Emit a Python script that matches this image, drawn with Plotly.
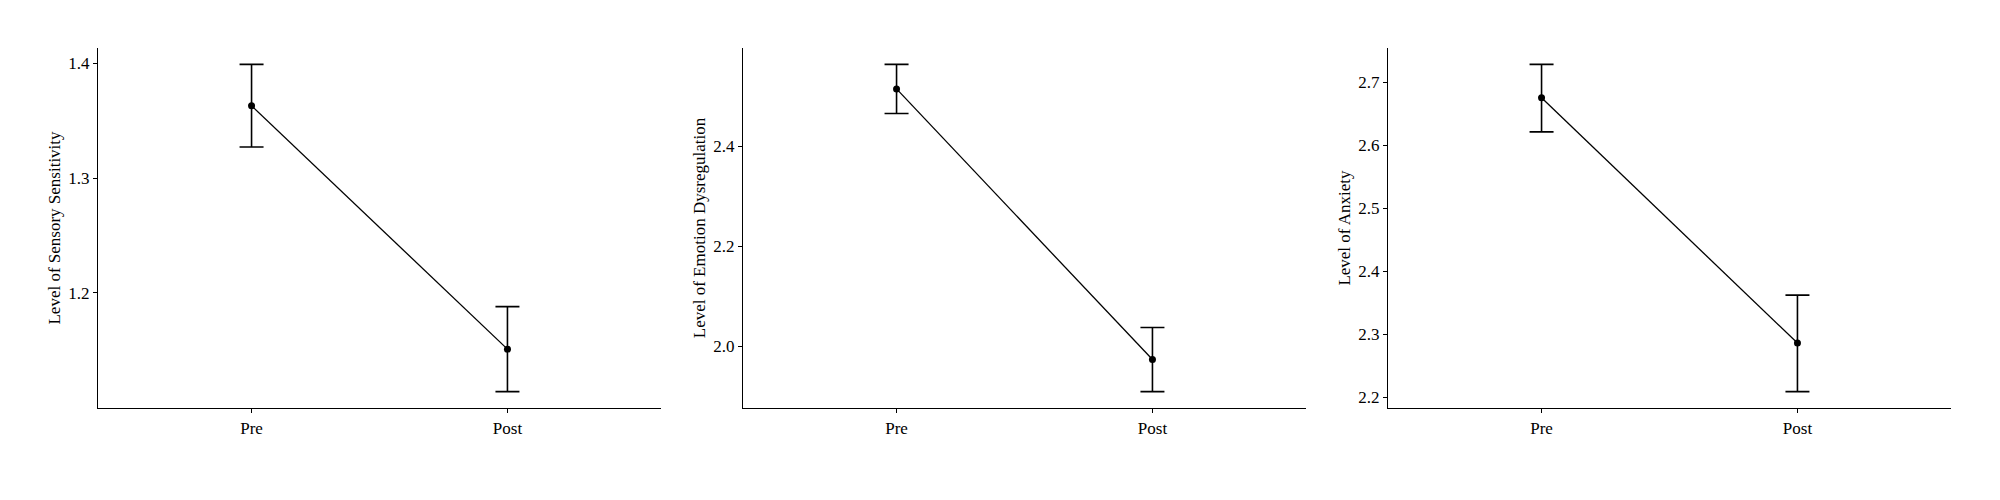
import plotly.graph_objects as go
from plotly.subplots import make_subplots

# --- data ---
times = ["Pre", "Post"]

sensory_mean = [1.363, 1.151]
sensory_upper = [1.399, 1.188]
sensory_lower = [1.327, 1.114]

emotion_mean = [2.514, 1.974]
emotion_upper = [2.563, 2.038]
emotion_lower = [2.465, 1.910]

anxiety_mean = [2.675, 2.286]
anxiety_upper = [2.728, 2.362]
anxiety_lower = [2.621, 2.209]

y_titles = ["Level of Sensory Sensitivity", "Level of Emotion Dysregulation", "Level of Anxiety"]
y_ticks = [[1.2, 1.3, 1.4], [2.0, 2.2, 2.4], [2.2, 2.3, 2.4, 2.5, 2.6, 2.7]]

panels = [
    (sensory_mean, sensory_upper, sensory_lower),
    (emotion_mean, emotion_upper, emotion_lower),
    (anxiety_mean, anxiety_upper, anxiety_lower),
]

FONT = "Liberation Serif"
W, H = 2000, 500
OFF = 8  # page body margin shifts the figure by this much

fig = make_subplots(rows=1, cols=3)

x_domains = [(98 - OFF, 661 - OFF), (743 - OFF, 1306 - OFF), (1388 - OFF, 1951 - OFF)]
y_domain = [(H - (408 - OFF)) / H, (H - (48 - OFF)) / H]

for i, (mean, upper, lower) in enumerate(panels):
    col = i + 1
    err_plus = [u - m for u, m in zip(upper, mean)]
    err_minus = [m - l for m, l in zip(mean, lower)]
    fig.add_trace(go.Scatter(
        x=times, y=mean, mode="lines+markers",
        line=dict(color="black", width=1.3),
        marker=dict(color="black", size=7),
        error_y=dict(type="data", array=err_plus, arrayminus=err_minus,
                     color="black", thickness=1.6, width=12),
        showlegend=False,
    ), row=1, col=col)

    # ggplot-style 5% expansion around the data extent
    lo, hi = min(lower), max(upper)
    pad = (hi - lo) * 0.05
    x0, x1 = x_domains[i]
    fig.update_xaxes(domain=[x0 / W, x1 / W], range=[-0.6, 1.6], type="category",
                     showline=True, linecolor="black", linewidth=1.3, mirror=False,
                     showgrid=False, zeroline=False, ticks="outside", ticklen=4,
                     tickcolor="black", tickfont=dict(family=FONT, size=17, color="black"),
                     row=1, col=col)
    fig.update_yaxes(domain=y_domain, range=[lo - pad, hi + pad],
                     tickvals=y_ticks[i], ticktext=[f"{v:.1f}" for v in y_ticks[i]],
                     showline=True, linecolor="black", linewidth=1.3,
                     showgrid=False, zeroline=False, ticks="outside", ticklen=4,
                     tickcolor="black", tickfont=dict(family=FONT, size=17, color="black"),
                     title=dict(text=y_titles[i], font=dict(family=FONT, size=17, color="black"),
                                standoff=3),
                     row=1, col=col)

fig.update_layout(width=W, height=H, margin=dict(l=0, r=0, t=0, b=0),
                  plot_bgcolor="white", paper_bgcolor="white",
                  font=dict(family=FONT, color="black"))

fig.write_html("out.html")
